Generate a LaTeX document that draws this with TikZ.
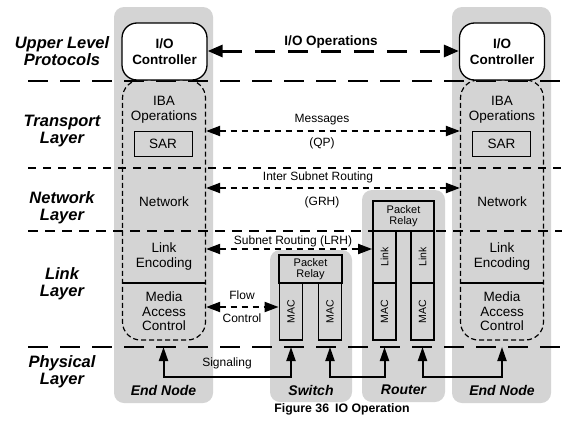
\documentclass[tikz,border=0pt]{standalone}
\usepackage{fontspec}
\setmainfont{Liberation Sans}
\usetikzlibrary{arrows.meta,calc}
\definecolor{colgray}{RGB}{212,212,212}
\begin{document}
\begin{tikzpicture}[x=1pt,y=-1pt,
  column/.style={fill=colgray,draw=none,rounded corners=10pt,inner sep=0pt},
  ctrl/.style={draw=black,line width=1.3pt,fill=white,rounded corners=15pt,inner sep=0pt,
    minimum width=85pt,minimum height=57pt,align=center,font=\fontsize{13.5}{16}\selectfont\bfseries},
  iba/.style={draw=black,line width=1.2pt,dash pattern=on 5pt off 3pt,rounded corners=18pt,inner sep=0pt,
    minimum width=83pt,minimum height=260pt},
  txt/.style={align=center,inner sep=0pt,font=\fontsize{13.5}{14.5}\selectfont},
  sarbox/.style={draw=black,line width=0.9pt,inner sep=0pt,minimum width=58pt,minimum height=25pt,
    font=\fontsize{13.5}{14.5}\selectfont},
  relay/.style={draw=black,line width=1.8pt,fill=colgray,inner sep=0pt,align=center,
    font=\fontsize{11}{11.5}\selectfont},
  vbox/.style={draw=black,line width=1.8pt,fill=colgray,inner sep=0pt,minimum width=23pt,
    font=\fontsize{10.5}{11}\selectfont},
  layerlbl/.style={align=center,inner sep=0pt,font=\fontsize{16.5}{17}\selectfont\bfseries\itshape},
  collbl/.style={inner sep=0pt,font=\fontsize{14}{15}\selectfont\bfseries\itshape},
  lbl/.style={inner sep=0pt,font=\fontsize{12}{13}\selectfont},
  longdash/.style={line width=2pt,dash pattern=on 20pt off 12pt},
  shortdash/.style={line width=2pt,dash pattern=on 8pt off 7pt},
  middash/.style={line width=2pt,dash pattern=on 10pt off 7pt},
  bigarrow/.style={line width=3pt,dash pattern=on 20pt off 13pt,
    {Triangle[length=15pt,width=12pt]}-{Triangle[length=15pt,width=12pt]}},
  msgarrow/.style={line width=2pt,dash pattern=on 6pt off 5pt,
    {Triangle[length=14pt,width=10pt]}-{Triangle[length=14pt,width=10pt]}},
  sigarrow/.style={line width=2pt,
    {Triangle[length=14pt,width=9pt]}-{Triangle[length=14pt,width=9pt]}}
]
\useasboundingbox (0,0) rectangle (572,431);
\fill[white] (0,0) rectangle (572,431);

% columns
\node[column,minimum width=99pt,minimum height=396pt] (colL) at (163.5,205) {};
\node[column,minimum width=82pt,minimum height=152pt] (colS) at (311,326) {};
\node[column,minimum width=83pt,minimum height=212pt] (colR) at (403.5,296) {};
\node[column,minimum width=99pt,minimum height=396pt] (colE) at (501.5,205) {};

% layer lines
\coordinate (la1) at (28,81);  \coordinate (lb1) at (566,81);
\coordinate (la2) at (28,168); \coordinate (lb2) at (562,168);
\coordinate (la3) at (28,231); \coordinate (lb3) at (562,231);
\coordinate (la4) at (28,347); \coordinate (lb4) at (566,347);
\draw[longdash] (la1) -- (lb1);
\draw[shortdash] (la2) -- (lb2);
\draw[middash] (la3) -- (lb3);
\draw[longdash] (la4) -- (lb4);

% layer labels
\node[layerlbl] (lUpper) at (62,51) {Upper Level\\Protocols};
\node[layerlbl] (lTrans) at (62,131) {Transport\\Layer};
\node[layerlbl] (lNet) at (62,208) {Network\\Layer};
\node[layerlbl] (lLink) at (62,284) {Link\\Layer};
\node[layerlbl] (lPhys) at (62,372) {Physical\\Layer};

% left end node
\node[iba] (ibaL) at (164,210) {};
\node[ctrl] (ctrlL) at (164.5,51.5) {I/O\\Controller};
\node[txt] (opsL) at (164,110) {IBA\\Operations};
\node[sarbox] (sarL) at (163,143.5) {SAR};
\node[txt] (netL) at (164,202) {Network};
\node[txt] (encL) at (164,256.5) {Link\\Encoding};
\path (ibaL.west |- la4) ++(0,-64) coordinate (sepLa) (ibaL.east |- la4) ++(0,-64) coordinate (sepLb);
\draw[line width=1.5pt] (sepLa) -- (sepLb);
\node[txt] (macL) at (164,311.5) {Media\\Access\\Control};

% right end node
\node[iba] (ibaE) at (502,210) {};
\node[ctrl] (ctrlE) at (502,51.5) {I/O\\Controller};
\node[txt] (opsE) at (502,110) {IBA\\Operations};
\node[sarbox] (sarE) at (501.5,143.5) {SAR};
\node[txt] (netE) at (502,202) {Network};
\node[txt] (encE) at (502,256.5) {Link\\Encoding};
\path (ibaE.west |- la4) ++(0,-64) coordinate (sepEa) (ibaE.east |- la4) ++(0,-64) coordinate (sepEb);
\draw[line width=1.5pt] (sepEa) -- (sepEb);
\node[txt] (macE) at (502,311.5) {Media\\Access\\Control};

% switch
\node[relay,minimum width=63pt,minimum height=28pt] (sRelay) at (310.5,269) {Packet\\Relay};
\node[vbox,minimum height=57pt] (sMac1) at (291,311.5) {\rotatebox{90}{MAC}};
\node[vbox,minimum height=57pt] (sMac2) at (330,311.5) {\rotatebox{90}{MAC}};

% router
\node[relay,minimum width=61pt,minimum height=30pt] (rRelay) at (403.5,216) {Packet\\Relay};
\node[vbox,minimum height=52pt] (rLink1) at (384.5,257) {\rotatebox{90}{Link}};
\node[vbox,minimum height=52pt] (rLink2) at (422.5,257) {\rotatebox{90}{Link}};
\node[vbox,minimum height=57pt] (rMac1) at (384.5,311.5) {\rotatebox{90}{MAC}};
\node[vbox,minimum height=57pt] (rMac2) at (422.5,311.5) {\rotatebox{90}{MAC}};

% peer arrows
\coordinate (yIO) at (0,51);
\coordinate (yMsg) at (0,131);
\coordinate (yGrh) at (0,188);
\coordinate (yLrh) at (0,249);
\coordinate (yFlow) at (0,307);
\draw[bigarrow] (ctrlL.east |- yIO) -- (ctrlE.west |- yIO);
\draw[msgarrow] (ibaL.east |- yMsg) -- (ibaE.west |- yMsg);
\draw[msgarrow] (ibaL.east |- yGrh) -- (ibaE.west |- yGrh);
\draw[msgarrow] (ibaL.east |- yLrh) -- (rLink1.west |- yLrh);
\draw[msgarrow] (ibaL.east |- yFlow) -- (sMac1.west |- yFlow);

\node[inner sep=0pt,font=\fontsize{13.5}{14}\selectfont\bfseries] (ioLbl) at (331,42) {I/O Operations};
\node[lbl] (msgLbl) at (322,120) {Messages};
\node[lbl] (qpLbl) at (322,143) {(QP)};
\node[lbl] (isrLbl) at (318,177) {Inter Subnet Routing};
\node[lbl] (grhLbl) at (322,202) {(GRH)};
\node[lbl] (srLbl) at (293,241) {Subnet Routing (LRH)};
\node[lbl] (flowLbl) at (242,295) {Flow};
\node[lbl] (ctlLbl) at (242,318) {Control};

% signaling
\coordinate (tL) at (163.5,347);
\coordinate (tS1) at (291,347);
\coordinate (tS2) at (330,347);
\coordinate (tR1) at (384.5,347);
\coordinate (tR2) at (422.5,347);
\coordinate (tE) at (502,347);
\draw[sigarrow] (tL) -- ++(0,30) -| (tS1);
\draw[sigarrow] (tS2) -- ++(0,30) -| (tR1);
\draw[sigarrow] (tR2) -- ++(0,30) -| (tE);
\node[lbl] (sigLbl) at (227,363) {Signaling};

% column labels
\node[collbl] (cL) at (163.5,390) {End Node};
\node[collbl] (cS) at (311,390) {Switch};
\node[collbl] (cR) at (403.5,390) {Router};
\node[collbl] (cE) at (502,390) {End Node};

% caption
\node[inner sep=0pt,font=\fontsize{12.3}{13}\selectfont\bfseries] (caption) at (342,409) {Figure 36\hspace{6pt}IO Operation};
\end{tikzpicture}
\end{document}
